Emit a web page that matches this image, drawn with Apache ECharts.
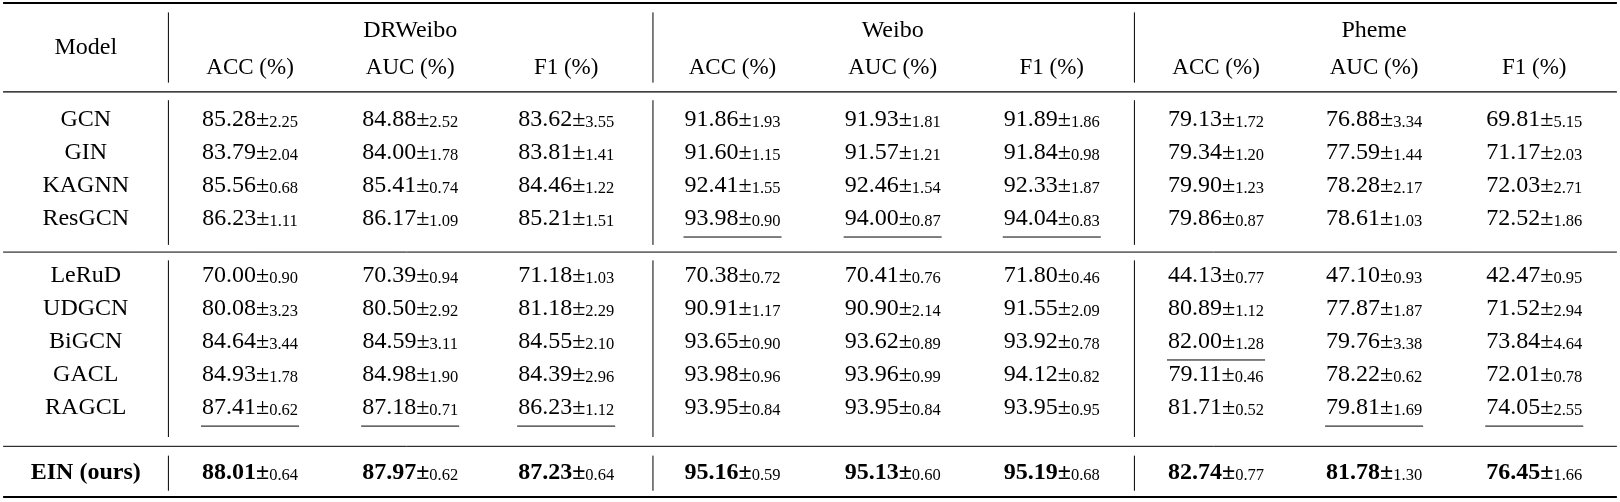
<!DOCTYPE html>
<html>
<head>
<meta charset="utf-8">
<script src="https://cdn.jsdelivr.net/npm/echarts@6/dist/echarts.min.js"></script>
<style>html,body{margin:0;padding:0;background:#fff}#main{width:1620px;height:502px}</style>
</head>
<body>
<div id="main"></div>
<script>
// 数据
var datasets = ['DRWeibo', 'Weibo', 'Pheme'];
var metrics = ['ACC (%)', 'AUC (%)', 'F1 (%)'];
var models = ['GCN', 'GIN', 'KAGNN', 'ResGCN', 'LeRuD', 'UDGCN', 'BiGCN', 'GACL', 'RAGCL', 'EIN (ours)'];
var means = [
    ['85.28', '84.88', '83.62', '91.86', '91.93', '91.89', '79.13', '76.88', '69.81'],
    ['83.79', '84.00', '83.81', '91.60', '91.57', '91.84', '79.34', '77.59', '71.17'],
    ['85.56', '85.41', '84.46', '92.41', '92.46', '92.33', '79.90', '78.28', '72.03'],
    ['86.23', '86.17', '85.21', '93.98', '94.00', '94.04', '79.86', '78.61', '72.52'],
    ['70.00', '70.39', '71.18', '70.38', '70.41', '71.80', '44.13', '47.10', '42.47'],
    ['80.08', '80.50', '81.18', '90.91', '90.90', '91.55', '80.89', '77.87', '71.52'],
    ['84.64', '84.59', '84.55', '93.65', '93.62', '93.92', '82.00', '79.76', '73.84'],
    ['84.93', '84.98', '84.39', '93.98', '93.96', '94.12', '79.11', '78.22', '72.01'],
    ['87.41', '87.18', '86.23', '93.95', '93.95', '93.95', '81.71', '79.81', '74.05'],
    ['88.01', '87.97', '87.23', '95.16', '95.13', '95.19', '82.74', '81.78', '76.45']
];
var stds = [
    ['2.25', '2.52', '3.55', '1.93', '1.81', '1.86', '1.72', '3.34', '5.15'],
    ['2.04', '1.78', '1.41', '1.15', '1.21', '0.98', '1.20', '1.44', '2.03'],
    ['0.68', '0.74', '1.22', '1.55', '1.54', '1.87', '1.23', '2.17', '2.71'],
    ['1.11', '1.09', '1.51', '0.90', '0.87', '0.83', '0.87', '1.03', '1.86'],
    ['0.90', '0.94', '1.03', '0.72', '0.76', '0.46', '0.77', '0.93', '0.95'],
    ['3.23', '2.92', '2.29', '1.17', '2.14', '2.09', '1.12', '1.87', '2.94'],
    ['3.44', '3.11', '2.10', '0.90', '0.89', '0.78', '1.28', '3.38', '4.64'],
    ['1.78', '1.90', '2.96', '0.96', '0.99', '0.82', '0.46', '0.62', '0.78'],
    ['0.62', '0.71', '1.12', '0.84', '0.84', '0.95', '0.52', '1.69', '2.55'],
    ['0.64', '0.62', '0.64', '0.59', '0.60', '0.68', '0.77', '1.30', '1.66']
];
// 下划线（次优）: [行, 列]
var underlined = [[3, 3], [3, 4], [3, 5], [6, 6], [8, 0], [8, 1], [8, 2], [8, 7], [8, 8]];

var FONT = '"Liberation Serif", "DejaVu Serif", serif';
var S = 1620 / 1568; // 坐标缩放
var colX = [242, 397, 548, 709, 864, 1018, 1177, 1330, 1485];
var rowY = [116, 148, 180, 212, 267, 299, 331, 363, 395, 458];
var groupX = [397, 864, 1330];
var sepX = [163, 632, 1098];
var MS = 24, SS = 16.5, HS = 24;

var ctx = document.createElement('canvas').getContext('2d');
function measure(t, size, bold) {
    ctx.font = (bold ? 'bold ' : '') + size + 'px ' + FONT;
    return ctx.measureText(t).width;
}
function isUnder(r, c) {
    for (var i = 0; i < underlined.length; i++) {
        if (underlined[i][0] == r && underlined[i][1] == c) return true;
    }
    return false;
}

var els = [];
function hline(y, w) {
    els.push({ type: 'line', shape: { x1: 3 * S, y1: y * S, x2: 1565 * S, y2: y * S }, style: { stroke: '#000', lineWidth: w } });
}
function vline(x, y1, y2) {
    els.push({ type: 'line', shape: { x1: x * S, y1: y1 * S, x2: x * S, y2: y2 * S }, style: { stroke: '#000', lineWidth: 1 } });
}
function text(t, x, y, size, bold) {
    els.push({ type: 'text', style: { text: t, x: x * S, y: y * S, font: (bold ? 'bold ' : '') + size + 'px ' + FONT, fill: '#000', align: 'center', verticalAlign: 'middle' } });
}

// 表线
hline(3, 2);
hline(89, 1.2);
hline(244, 1);
hline(432, 1);
hline(481, 2);
sepX.forEach(function(x) {
    vline(x, 12, 80);
    vline(x, 97, 237);
    vline(x, 252, 423);
    vline(x, 441, 475);
});

// 表头
text('Model', 83, 46, HS);
datasets.forEach(function(d, i) { text(d, groupX[i], 30, HS); });
colX.forEach(function(x, i) { text(metrics[i % 3], x, 66, 23); });

// 表体
models.forEach(function(m, r) {
    var bold = r == models.length - 1;
    var y = rowY[r] * S;
    text(m, 83, rowY[r], HS, bold);
    colX.forEach(function(x0, c) {
        var x = x0 * S;
        var a = means[r][c] + '±';
        var b = stds[r][c];
        var wa = measure(a, MS, bold);
        var wb = measure(b, SS, false);
        var left = x - (wa + wb) / 2;
        els.push({ type: 'text', style: { text: a, x: left, y: y, font: (bold ? 'bold ' : '') + MS + 'px ' + FONT, fill: '#000', align: 'left', verticalAlign: 'middle' } });
        els.push({ type: 'text', style: { text: b, x: left + wa, y: y + 2.5, font: SS + 'px ' + FONT, fill: '#000', align: 'left', verticalAlign: 'middle' } });
        if (isUnder(r, c)) {
            els.push({ type: 'line', shape: { x1: left - 1, y1: y + 18, x2: left + wa + wb + 1, y2: y + 18 }, style: { stroke: '#000', lineWidth: 1 } });
        }
    });
});

var chart = echarts.init(document.getElementById('main'));
chart.setOption({ animation: false, graphic: { elements: els } });
</script>
</body>
</html>
